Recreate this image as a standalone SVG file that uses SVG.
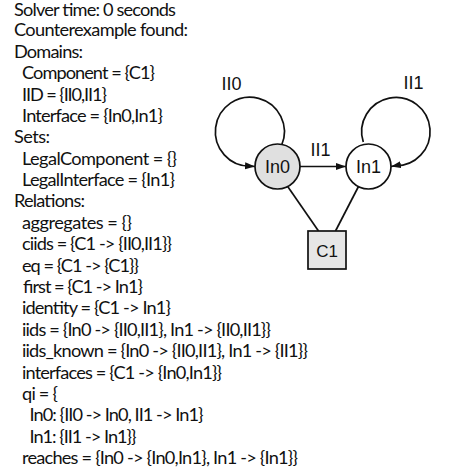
<svg xmlns="http://www.w3.org/2000/svg" width="474" height="474" viewBox="0 0 474 474">
<style>
.t{font-family:Lato,"Open Sans",sans-serif;font-size:18.2px;fill:#111}
.lbl{font-family:"Liberation Sans",Arial,sans-serif;font-size:18px;fill:#111}
.node{stroke:#111;stroke-width:1.7}
.edge{fill:none;stroke:#111;stroke-width:1.7}
</style>
<defs>
<marker id="arr" markerUnits="userSpaceOnUse" markerWidth="12" markerHeight="10" refX="10" refY="3.5" orient="auto">
<path d="M0,0 L10,3.5 L0,7 Z" fill="#111"/>
</marker>
</defs>
<rect width="474" height="474" fill="#fff"/>
<g id="text">
<text class="t" x="14" y="16" textLength="162">Solver time: 0 seconds</text>
<text class="t" x="14" y="36.4" textLength="174">Counterexample found:</text>
<text class="t" x="14" y="57.8" textLength="69">Domains:</text>
<text class="t" x="22" y="79.1" textLength="133">Component = {C1}</text>
<text class="t" x="22" y="100.5" textLength="85">IID = {II0,II1}</text>
<text class="t" x="22" y="121.9" textLength="141">Interface = {In0,In1}</text>
<text class="t" x="14" y="143.3" textLength="36">Sets:</text>
<text class="t" x="22" y="164.7" textLength="155">LegalComponent = {}</text>
<text class="t" x="22" y="186" textLength="153">LegalInterface = {In1}</text>
<text class="t" x="14" y="207.4" textLength="71">Relations:</text>
<text class="t" x="22" y="228.8" textLength="110">aggregates = {}</text>
<text class="t" x="22" y="250.2" textLength="150">ciids = {C1 -&gt; {II0,II1}}</text>
<text class="t" x="22" y="271.6" textLength="117">eq = {C1 -&gt; {C1}}</text>
<text class="t" x="22" y="292.9" textLength="120">first = {C1 -&gt; In1}</text>
<text class="t" x="22" y="314.3" textLength="149">identity = {C1 -&gt; In1}</text>
<text class="t" x="22" y="335.7" textLength="249">iids = {In0 -&gt; {II0,II1}, In1 -&gt; {II0,II1}}</text>
<text class="t" x="22" y="357.1" textLength="286">iids_known = {In0 -&gt; {II0,II1}, In1 -&gt; {II1}}</text>
<text class="t" x="22" y="378.5" textLength="200">interfaces = {C1 -&gt; {In0,In1}}</text>
<text class="t" x="22" y="399.8" textLength="36">qi = {</text>
<text class="t" x="29.5" y="421.2" textLength="174">In0: {II0 -&gt; In0, II1 -&gt; In1}</text>
<text class="t" x="29.5" y="442.6" textLength="107">In1: {II1 -&gt; In1}}</text>
<text class="t" x="22" y="464" textLength="276">reaches = {In0 -&gt; {In0,In1}, In1 -&gt; {In1}}</text>
</g>
<g id="connectors">
<path class="edge" d="M281.7,145 A34.5,34.5 0 1 0 250.5,166.2 L255,166.5" marker-end="url(#arr)"/>
<path class="edge" d="M363.3,142 A34.2,34.2 0 1 1 394.8,165.8 L391,166.5" marker-end="url(#arr)"/>
<path class="edge" d="M300,166.5 L346,166.5" marker-end="url(#arr)"/>
<path class="edge" d="M287,185.5 L318.5,231"/>
<path class="edge" d="M359,185.5 L335.5,231"/>
<text class="lbl" x="221.5" y="90">II0</text>
<text class="lbl" x="403.5" y="88.5">II1</text>
<text class="lbl" x="310.5" y="156">II1</text>
</g>
<g id="In0">
<circle class="node" cx="277.5" cy="166.5" r="22.5" fill="#e0e0e0"/>
<text class="lbl" x="277.5" y="173" text-anchor="middle">In0</text>
</g>
<g id="In1">
<circle class="node" cx="368.5" cy="166.5" r="22.5" fill="#fff"/>
<text class="lbl" x="368.5" y="173" text-anchor="middle">In1</text>
</g>
<g id="C1">
<rect class="node" x="308" y="231" width="38" height="38" fill="#e6e6e6"/>
<text class="lbl" x="327" y="256.5" text-anchor="middle" style="font-size:17px">C1</text>
</g>
</svg>
